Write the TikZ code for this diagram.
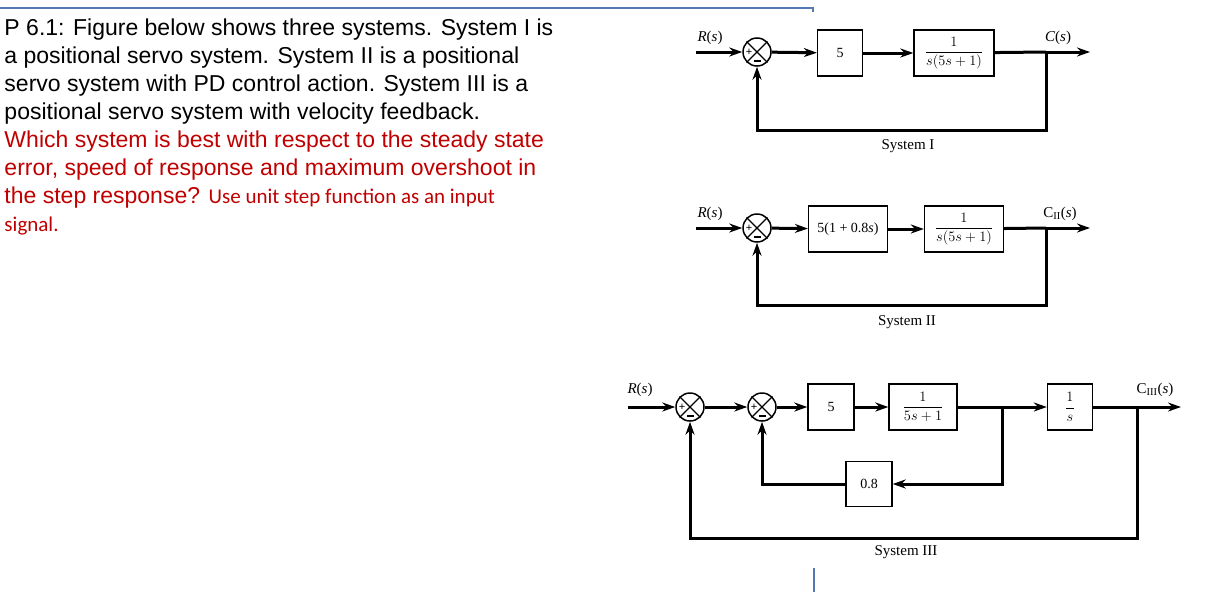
\documentclass[tikz,border=0pt]{standalone}
\usepackage{fontspec}
\setmainfont{Liberation Sans}
\newfontfamily\calib{Carlito}
\newfontfamily\tms{Liberation Serif}
\usetikzlibrary{arrows.meta}
\definecolor{qred}{RGB}{192,0,0}
\definecolor{qblue}{RGB}{84,120,180}
\begin{document}
\begin{tikzpicture}[x=1pt,y=-1pt, line width=3pt,
    >={Stealth[length=13pt,width=9pt]},
    blk/.style={draw, line width=1.3pt, inner sep=0pt, font=\tms\fontsize{14}{15}\selectfont},
    sum/.style={draw, circle, line width=1.5pt, minimum size=28pt, inner sep=0pt},
    lbl/.style={font=\tms\fontsize{15}{16}\selectfont},
    syscap/.style={font=\tms\fontsize{15}{16}\selectfont}]
  \useasboundingbox (0,0) rectangle (1222,592);

  % blue rules
  \draw[qblue, line width=2.5pt] (0,8) -- (813,8) -- (813,12);
  \draw[qblue, line width=2.5pt] (814,568) -- (814,592);

  % problem text
  \node[anchor=north west, align=left, inner sep=0pt,
        font=\fontsize{23}{28}\selectfont] (txt) at (3,17) {%
    P 6.1: Figure below shows three systems. System I is\\
    a positional servo system. System II is a positional\\
    servo system with PD control action. System III is a\\
    positional servo system with velocity feedback.\\
    \textcolor{qred}{Which system is best with respect to the steady state}\\
    \textcolor{qred}{error, speed of response and maximum overshoot in}\\
    \textcolor{qred}{the step response? {\calib\fontsize{21}{28}\selectfont Use unit step function as an input}}\\
    \textcolor{qred}{\calib\fontsize{21}{28}\selectfont signal.}};

  \newcommand\sumsigns[1]{%
    \draw[line width=1.2pt] (#1.north west) -- (#1.south east)
      (#1.north east) -- (#1.south west);
    \node[font=\fontsize{11}{11}\selectfont, inner sep=0pt] at ([xshift=-8pt]#1.center) {+};
    \fill ([xshift=-3.5pt,yshift=-8pt]#1.center) rectangle ([xshift=3.5pt,yshift=-9.5pt]#1.center);}

  % System I
  \coordinate (r1) at (696,52);
  \node[sum] (s1) at (757,52) {};
  \sumsigns{s1}
  \node[blk, minimum width=45pt, minimum height=46pt] (a1) at (840,53) {5};
  \node[blk, minimum width=80pt, minimum height=46pt] (b1) at (954,53) {$\displaystyle\frac{1}{s(5s+1)}$};
  \coordinate (o1) at (1090,52);
  \coordinate (t1) at (1046,52);
  \draw[->] (r1) -- (s1);
  \draw[->] (s1) -- (a1);
  \draw[->] (a1) -- (b1);
  \draw (b1) -- (t1);
  \draw[->] (t1) -- (o1);
  \draw[->] (t1) |- (757,130) -- (s1);
  \node[lbl] at (710,38) {\textit{R}(\textit{s})};
  \node[lbl] at (1058,38) {\textit{C}(\textit{s})};
  \node[syscap] at (908,146) {System I};

  % System II
  \coordinate (r2) at (696,228);
  \node[sum] (s2) at (757,228) {};
  \sumsigns{s2}
  \node[blk, minimum width=79pt, minimum height=46pt] (a2) at (848,229) {5(1 + 0.8\textit{s})};
  \node[blk, minimum width=79pt, minimum height=46pt] (b2) at (964,229) {$\displaystyle\frac{1}{s(5s+1)}$};
  \coordinate (o2) at (1090,228);
  \coordinate (t2) at (1046,228);
  \draw[->] (r2) -- (s2);
  \draw[->] (s2) -- (a2);
  \draw[->] (a2) -- (b2);
  \draw (b2) -- (t2);
  \draw[->] (t2) -- (o2);
  \draw[->] (t2) |- (757,305) -- (s2);
  \node[lbl] at (710,214) {\textit{R}(\textit{s})};
  \node[lbl] at (1060,214) {C\textsubscript{II}(\textit{s})};
  \node[syscap] at (907,322) {System II};

  % System III
  \coordinate (r3) at (628,407);
  \node[sum] (s3) at (690,407) {};
  \sumsigns{s3}
  \node[sum] (s4) at (762,407) {};
  \sumsigns{s4}
  \node[blk, minimum width=46pt, minimum height=46pt] (a3) at (831,407) {5};
  \node[blk, minimum width=68pt, minimum height=46pt] (b3) at (923,407) {$\displaystyle\frac{1}{5s+1}$};
  \node[blk, minimum width=45pt, minimum height=46pt] (c3) at (1070,407) {$\displaystyle\frac{1}{s}$};
  \node[blk, minimum width=46pt, minimum height=45pt] (k3) at (869,484) {0.8};
  \coordinate (o3) at (1181,407);
  \coordinate (t3) at (1002,407);
  \coordinate (u3) at (1137,407);
  \draw[->] (r3) -- (s3);
  \draw[->] (s3) -- (s4);
  \draw[->] (s4) -- (a3);
  \draw[->] (a3) -- (b3);
  \draw[->] (b3) -- (c3);
  \draw[->] (c3) -- (o3);
  \draw[->] (t3) |- (k3);
  \draw[->] (k3) -| (s4);
  \draw[->] (u3) |- (690,538) -- (s3);
  \node[lbl] at (640,390) {\textit{R}(\textit{s})};
  \node[lbl] at (1155,390) {C\textsubscript{III}(\textit{s})};
  \node[syscap] at (906,552) {System III};
\end{tikzpicture}
\end{document}
